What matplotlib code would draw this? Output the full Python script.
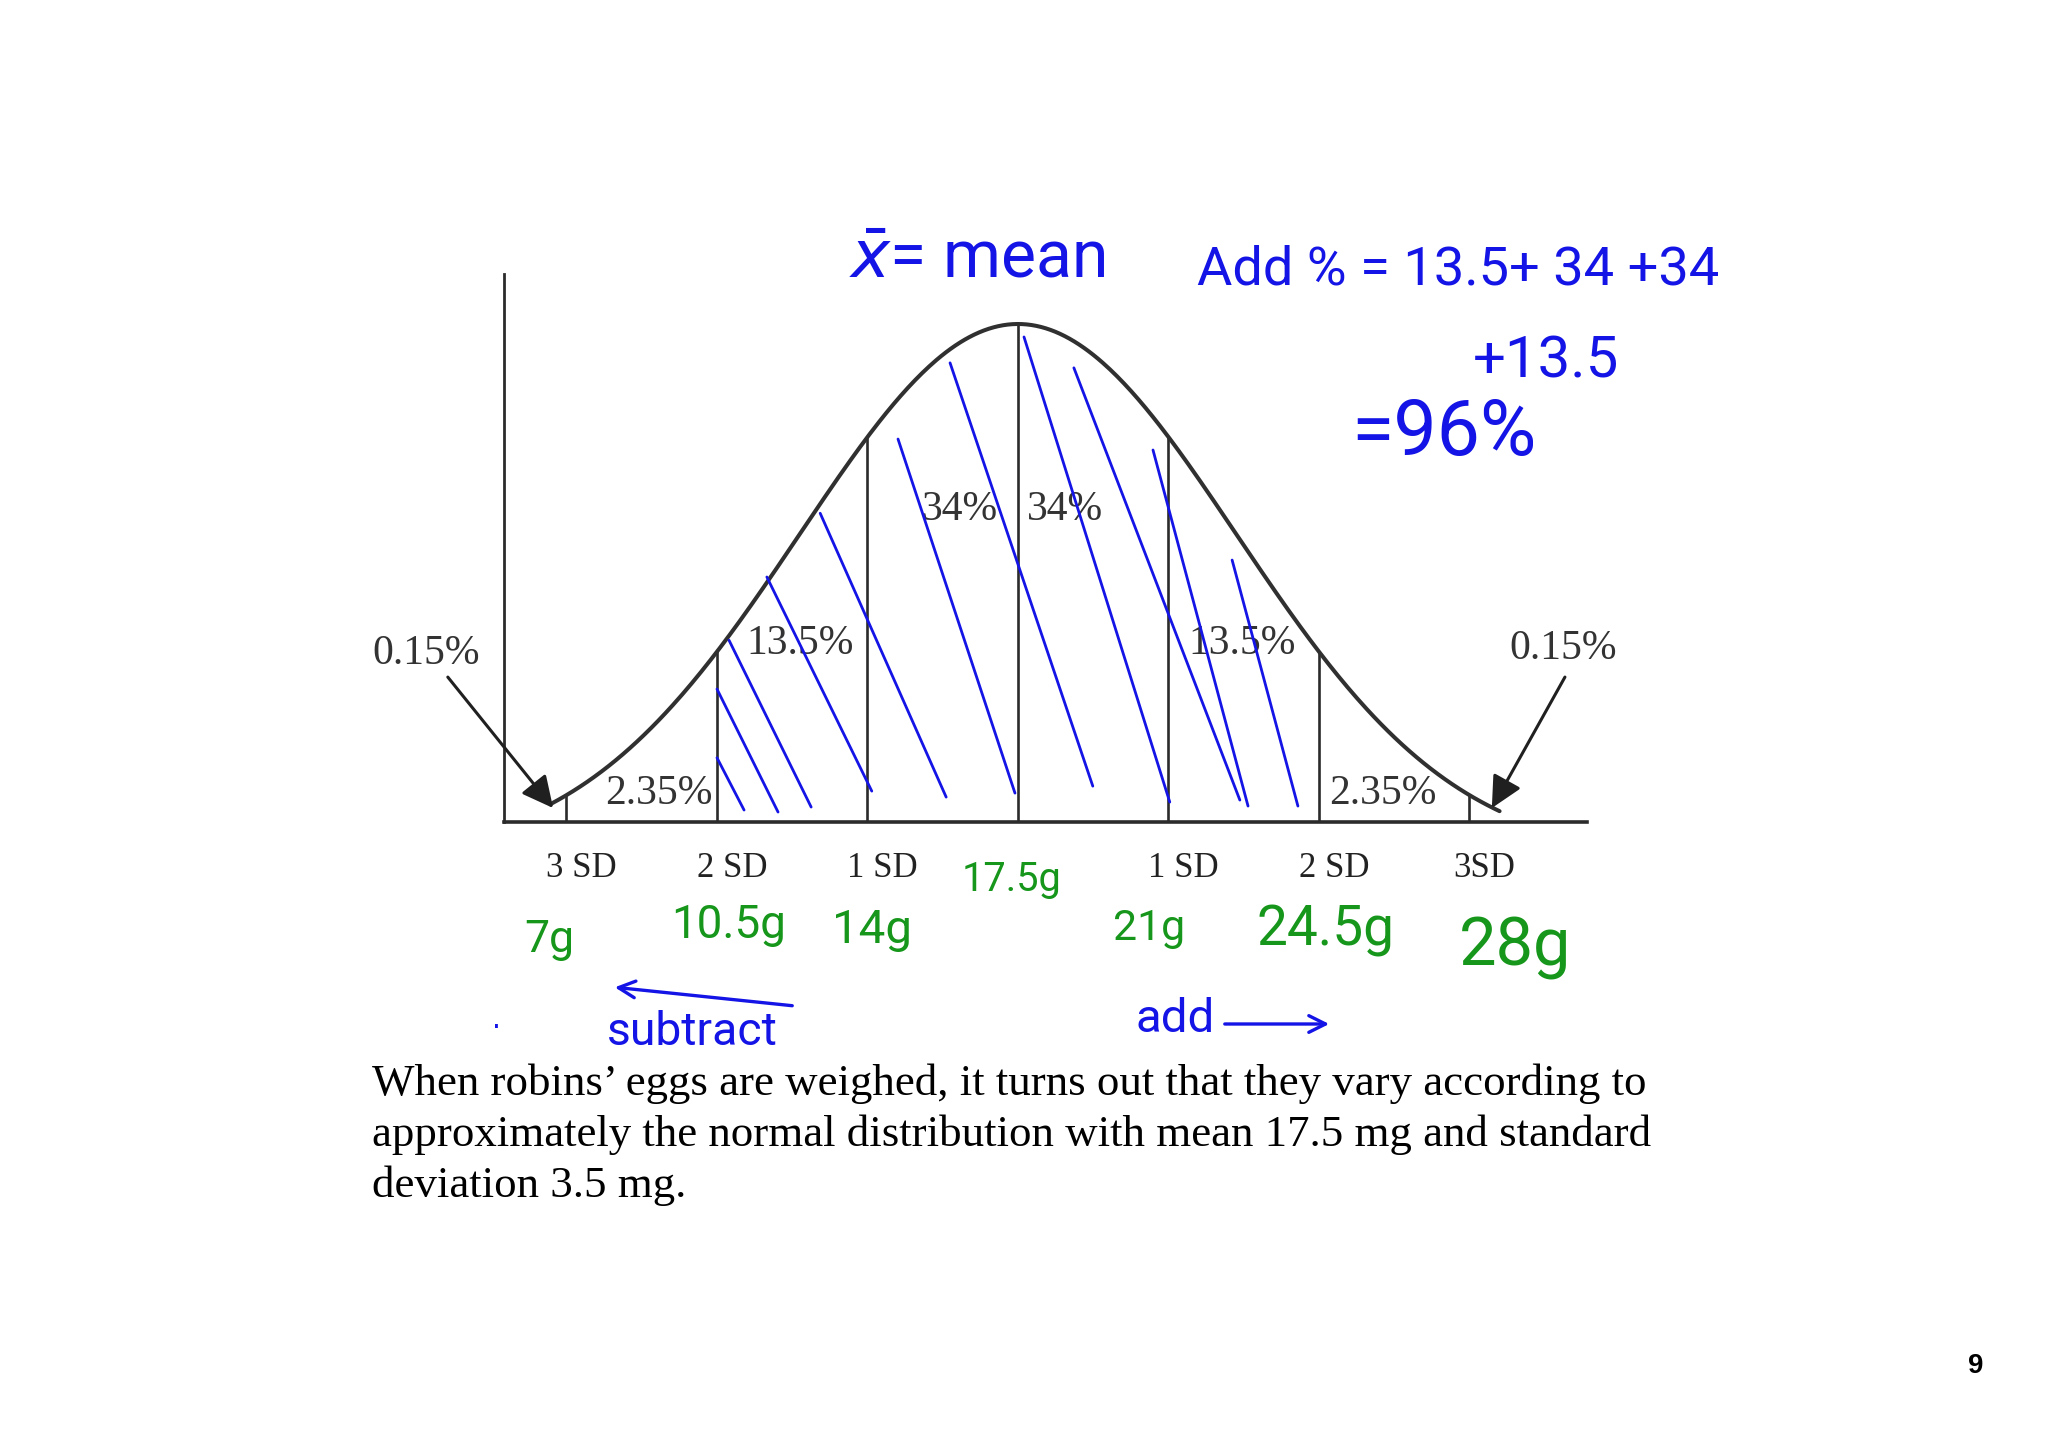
import numpy as np
import matplotlib
matplotlib.use("Agg")
import matplotlib.pyplot as plt
from matplotlib import font_manager

# canvas size in pixels
W, H = 2048, 1447

# distribution of the robins' eggs
mean_mg = 17.5
sd_mg = 3.5
sd_steps = [-3, -2, -1, 0, 1, 2, 3]
sd_labels = ["3 SD", "2 SD", "1 SD", "", "1 SD", "2 SD", "3SD"]
weight_labels = ["7g", "10.5g", "14g", "17.5g", "21g", "24.5g", "28g"]
pct_labels = ["0.15%", "2.35%", "13.5%", "34%", "34%", "13.5%", "2.35%", "0.15%"]

# hand drawn shading strokes (weight in g, height relative to peak)
stroke_x0 = [10.50, 10.50, 10.78, 11.66, 12.90, 14.71, 15.92, 17.64, 18.80, 20.64, 22.48]
stroke_y0 = [0.129, 0.267, 0.365, 0.492, 0.620, 0.769, 0.922, 0.974, 0.912, 0.747, 0.526]
stroke_x1 = [11.13, 11.92, 12.69, 14.10, 15.83, 17.43, 19.24, 21.03, 22.66, 22.85, 24.01]
stroke_y1 = [0.024, 0.020, 0.030, 0.062, 0.050, 0.058, 0.072, 0.040, 0.044, 0.032, 0.032]

caption = ["When robins\u2019 eggs are weighed, it turns out that they vary according to",
           "approximately the normal distribution with mean 17.5 mg and standard",
           "deviation 3.5 mg."]

# bell shape of the drawing (a bit flatter than a true normal curve)
CURVE_SPREAD = 1.45
CURVE_FLOOR = 0.0673

def bell(x):
    z = (x - mean_mg) / sd_mg
    return (np.exp(-z ** 2 / (2 * CURVE_SPREAD ** 2)) - CURVE_FLOOR) / (1 - CURVE_FLOOR)

names = {f.name for f in font_manager.fontManager.ttflist}
hand_font = "Liberation Sans Narrow" if "Liberation Sans Narrow" in names else "Roboto"
serif = ["Liberation Serif", "DejaVu Serif"]

BLUE = "#1414e6"
GREEN = "#16961a"
INK = "#2b2b2b"

def fxy(px, py):
    return px / W, 1 - py / H

fig = plt.figure(figsize=(W / 100, H / 100), dpi=100)
fig.patch.set_facecolor("white")
renderer = fig.canvas.get_renderer()

#scale a text so its width matches the width it has in the picture
def fit(t, width_px):
    t.set_fontsize(20)
    bb = t.get_window_extent(renderer)
    t.set_fontsize(20 * width_px / bb.width)
    return t

#axes: left spine is the vertical axis, bottom spine the baseline
ax = fig.add_axes([504 / W, (H - 822) / H, 1083 / W, 548 / H])
ax.set_xlim(5.547, 30.733)
ax.set_ylim(0, 1.1004)
ax.set_xticks([])
ax.set_yticks([])
ax.spines["top"].set_visible(False)
ax.spines["right"].set_visible(False)
ax.spines["left"].set_linewidth(2.0)
ax.spines["bottom"].set_linewidth(2.6)
ax.spines["left"].set_color(INK)
ax.spines["bottom"].set_color(INK)
ax.patch.set_alpha(0)

# the curve
xs = np.linspace(mean_mg - 3.1 * sd_mg, mean_mg + 3.2 * sd_mg, 400)
ax.plot(xs, bell(xs), color="#303030", lw=2.9, solid_capstyle="round", zorder=3)

# sd dividers
for s in sd_steps:
    xv = mean_mg + s * sd_mg
    ax.plot([xv, xv], [0, bell(xv)], color=INK, lw=1.9, zorder=2)

# percent labels
pct_x = [3.73, 9.15, 12.43, 16.15, 18.59, 22.71, 25.99, 30.17]
pct_y = [0.337, 0.056, 0.357, 0.628, 0.628, 0.357, 0.056, 0.347]
for lab, x, y in zip(pct_labels, pct_x, pct_y):
    ax.text(x, y, lab, ha="center", va="center", fontsize=30, family=serif,
            color="#333333", zorder=4)

# arrows for the tails
ax.annotate("", xy=(6.69, 0.028), xytext=(4.24, 0.291), annotation_clip=False,
            arrowprops=dict(arrowstyle="-|>", color="#202020", lw=2.2,
                            mutation_scale=48, shrinkA=0, shrinkB=0))
ax.annotate("", xy=(28.52, 0.028), xytext=(30.22, 0.291), annotation_clip=False,
            arrowprops=dict(arrowstyle="-|>", color="#202020", lw=2.2,
                            mutation_scale=48, shrinkA=0, shrinkB=0))

# sd labels under the baseline
for s, lab in zip(sd_steps, sd_labels):
    ax.text(mean_mg + s * sd_mg + 0.35, -0.094, lab, ha="center", va="center",
            fontsize=25, family=serif, color="#222222")

# blue shading strokes
for x0, y0, x1, y1 in zip(stroke_x0, stroke_y0, stroke_x1, stroke_y1):
    ax.plot([x0, x1], [y0, y1], color=BLUE, lw=2.0, solid_capstyle="round", zorder=5)

# green weights
weight_x = [6.59, 10.78, 14.10, 17.36, 20.55, 24.66, 29.06]
weight_y = [-0.237, -0.207, -0.217, -0.116, -0.213, -0.217, -0.253]
weight_w = [50, 115, 80, 100, 72, 138, 112]
for lab, x, y, w in zip(weight_labels, weight_x, weight_y, weight_w):
    t = ax.text(x, y, lab, ha="center", va="center", family=hand_font,
                color=GREEN)
    fit(t, w)

# blue notes at the top
notes = [(977, 260, r"$\bar{x}$= mean", 259),
         (1458, 270, "Add % = 13.5+ 34 +34", 521),
         (1546, 362, "+13.5", 146),
         (1444, 434, "=96%", 185),
         (692, 1032, "subtract", 170),
         (1175, 1019, "add", 79)]
for px, py, s, w in notes:
    t = fig.text(*fxy(px, py), s, ha="center", va="center", family=hand_font,
                 color=BLUE)
    fit(t, w)

# subtract / add arrows
ax.annotate("", xy=fxy(612, 987), xytext=fxy(795, 1006), xycoords="figure fraction",
            textcoords="figure fraction", annotation_clip=False,
            arrowprops=dict(arrowstyle="->", color=BLUE, lw=2.4, mutation_scale=30))
ax.annotate("", xy=fxy(1332, 1024), xytext=fxy(1222, 1024), xycoords="figure fraction",
            textcoords="figure fraction", annotation_clip=False,
            arrowprops=dict(arrowstyle="->", color=BLUE, lw=2.4, mutation_scale=30))
fig.text(*fxy(496, 1028), "\u00b7", ha="center", va="center", fontsize=20, color=BLUE)

# caption
lines = []
for i, line in enumerate(caption):
    lines.append(fig.text(*fxy(372, 1095 + 51 * i), line, ha="left", va="baseline",
                          family=serif, color="black"))
fit(lines[0], 1275)
for t in lines[1:]:
    t.set_fontsize(lines[0].get_fontsize())

fig.text(*fxy(1976, 1366), "9", ha="center", va="center", fontsize=20,
         family=["Liberation Sans", "DejaVu Sans"], weight="bold", color="black")

fig.savefig("out.png", dpi=100, facecolor="white")
